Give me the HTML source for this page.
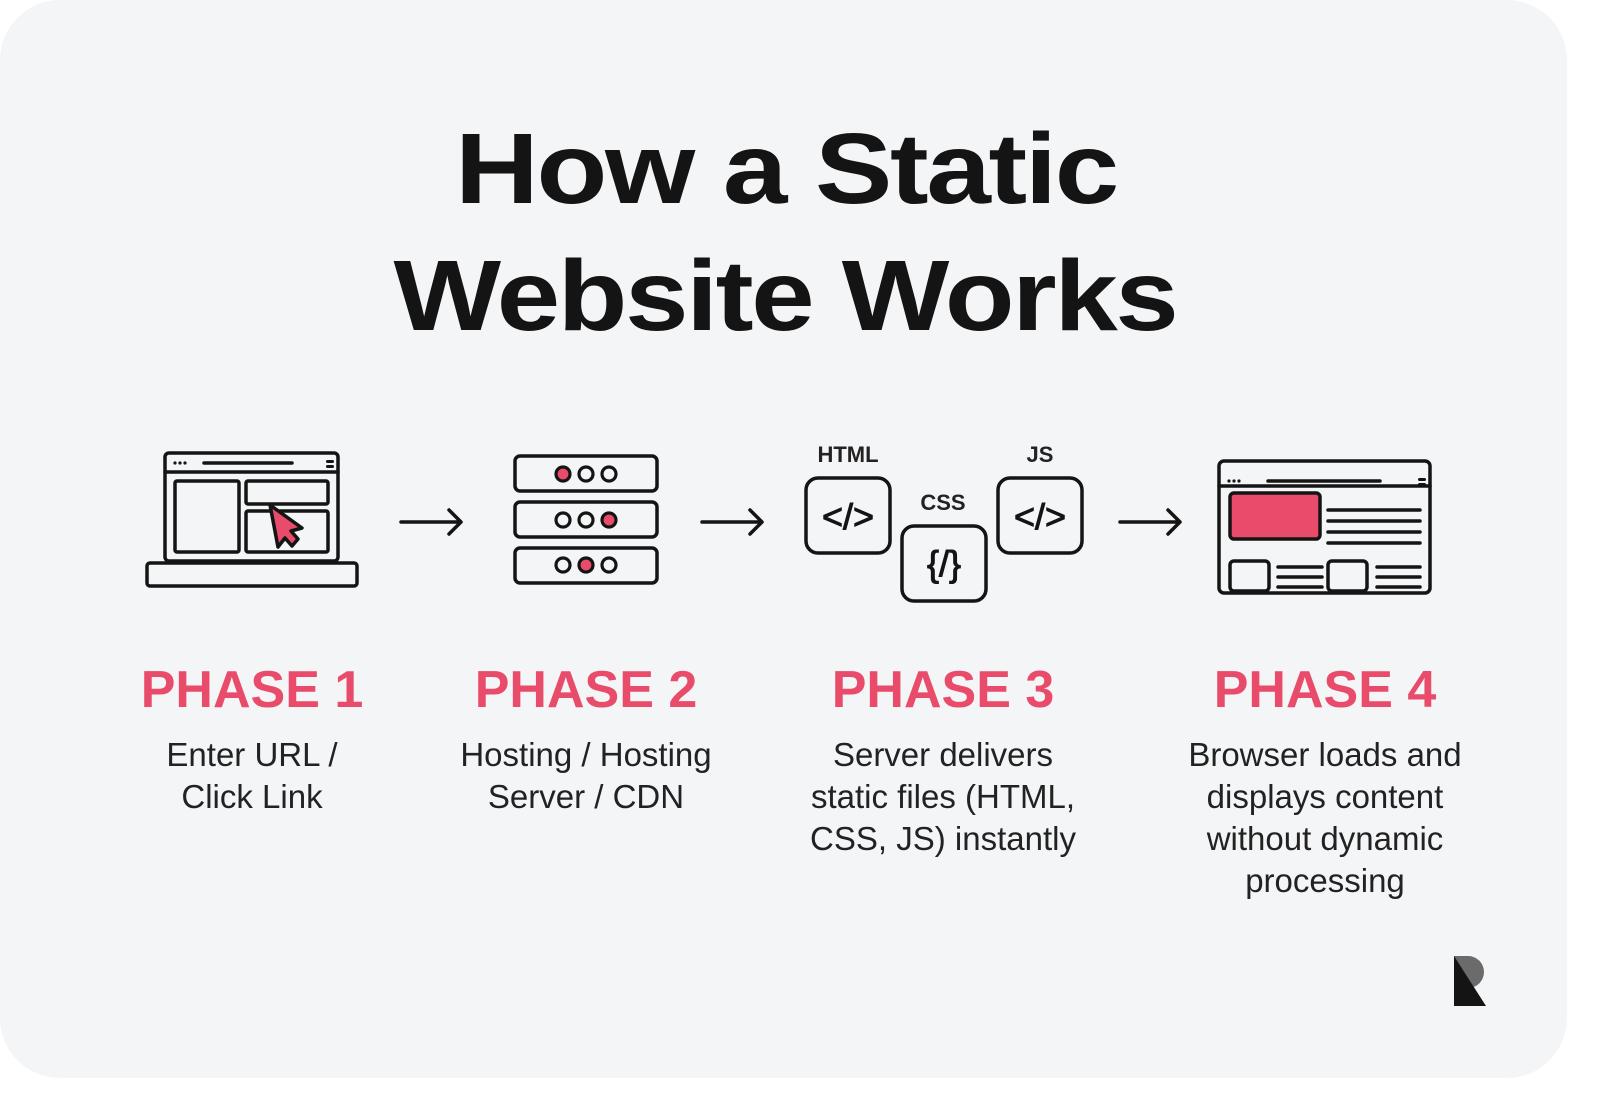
<!DOCTYPE html>
<html><head><meta charset="utf-8"><style>
html,body{margin:0;padding:0;background:#fff;width:1600px;height:1100px;overflow:hidden}
svg{display:block}
text{font-family:"Liberation Sans",sans-serif}
</style></head><body>
<svg width="1600" height="1100" viewBox="0 0 1600 1100" xmlns="http://www.w3.org/2000/svg">
<rect x="0" y="0" width="1567" height="1078" rx="60" fill="#f4f5f7"/>
<text x="786" y="203" font-size="100" font-weight="bold" fill="#141414" text-anchor="middle" textLength="662" lengthAdjust="spacingAndGlyphs" letter-spacing="-2">How a Static</text>
<text x="785" y="330" font-size="100" font-weight="bold" fill="#141414" text-anchor="middle" textLength="783" lengthAdjust="spacingAndGlyphs" letter-spacing="-2">Website Works</text>

<g fill="none" stroke="#141414" stroke-width="3.5" stroke-linecap="round" stroke-linejoin="round">
<rect x="165" y="453" width="173" height="108" rx="4"/>
<line x1="165" y1="472" x2="338" y2="472"/>
<line x1="204" y1="463" x2="292" y2="463"/>
<rect x="175" y="481" width="64" height="71" rx="2"/>
<rect x="246" y="481" width="82" height="23" rx="2"/>
<rect x="246" y="511" width="82" height="41" rx="2"/>
<rect x="147" y="563" width="210" height="23" rx="3"/>
<path d="M401 522H461M449 510L461 522L449 534"/>
<path d="M702 522H762M750 510L762 522L750 534"/>
<path d="M1120 522H1180M1168 510L1180 522L1168 534"/>
<rect x="515" y="456" width="142" height="35" rx="5"/>
<rect x="515" y="502" width="142" height="35" rx="5"/>
<rect x="515" y="548" width="142" height="35" rx="5"/>
<rect x="806" y="478" width="84" height="75" rx="12"/>
<rect x="902" y="526" width="84" height="75" rx="12"/>
<rect x="998" y="478" width="84" height="75" rx="12"/>
<rect x="1219" y="461" width="211" height="132" rx="5"/>
<line x1="1219" y1="486" x2="1430" y2="486"/>
<line x1="1268" y1="481" x2="1380" y2="481"/>
<rect x="1230" y="493" width="90" height="46" rx="4" fill="#e84c6a"/>
<path d="M1328 510H1420M1328 521H1420M1328 532H1420M1328 543H1420"/>
<rect x="1230" y="561" width="39" height="30" rx="4"/>
<rect x="1328" y="561" width="39" height="30" rx="4"/>
<path d="M1278 567H1322M1278 577H1322M1278 587H1322M1377 567H1420M1377 577H1420M1377 587H1420"/>
</g>
<g fill="#141414">
<circle cx="175" cy="463" r="1.6"/><circle cx="180" cy="463" r="1.6"/><circle cx="185" cy="463" r="1.6"/>
<rect x="326" y="460" width="8" height="3" rx="1.5"/><rect x="326" y="465" width="8" height="3" rx="1.5"/>
<circle cx="1229" cy="481" r="1.6"/><circle cx="1234" cy="481" r="1.6"/><circle cx="1239" cy="481" r="1.6"/>
<rect x="1418" y="478" width="8" height="3" rx="1.5"/><rect x="1418" y="483" width="8" height="3" rx="1.5"/>
</g>
<path d="M270 505 L302 528 L291 531 L298 539 L292 546 L285 538 L278 547 Z" fill="#e84c6a" stroke="#141414" stroke-width="3.5" stroke-linejoin="round"/>
<g stroke="#141414" stroke-width="3.2">
<circle cx="563" cy="474" r="7" fill="#e84c6a"/><circle cx="586" cy="474" r="7" fill="none"/><circle cx="609" cy="474" r="7" fill="none"/>
<circle cx="563" cy="520" r="7" fill="none"/><circle cx="586" cy="520" r="7" fill="none"/><circle cx="609" cy="520" r="7" fill="#e84c6a"/>
<circle cx="563" cy="565" r="7" fill="none"/><circle cx="586" cy="565" r="7" fill="#e84c6a"/><circle cx="609" cy="565" r="7" fill="none"/>
</g>
<g font-weight="bold" font-size="22" fill="#222" text-anchor="middle">
<text x="848" y="462">HTML</text><text x="943" y="510">CSS</text><text x="1040" y="462">JS</text>
</g>
<g font-size="36" fill="#141414" stroke="#141414" stroke-width="1" text-anchor="middle">
<text x="848" y="529">&lt;/&gt;</text><text x="1040" y="529">&lt;/&gt;</text><text x="944" y="576">{/}</text>
</g>
<g font-size="52" font-weight="bold" fill="#e84c6a" text-anchor="middle">
<text x="252" y="707">PHASE 1</text><text x="586" y="707">PHASE 2</text><text x="943" y="707">PHASE 3</text><text x="1325" y="707">PHASE 4</text>
</g>
<g font-size="33" fill="#222" text-anchor="middle">
<text x="252" y="766">Enter URL /</text><text x="252" y="808">Click Link</text>
<text x="586" y="766">Hosting / Hosting</text><text x="586" y="808">Server / CDN</text>
<text x="943" y="766">Server delivers</text><text x="943" y="808">static files (HTML,</text><text x="943" y="850">CSS, JS) instantly</text>
<text x="1325" y="766">Browser loads and</text><text x="1325" y="808">displays content</text><text x="1325" y="850">without dynamic</text><text x="1325" y="892">processing</text>
</g>
<path d="M1484 972 A16 16 0 0 0 1468 956 H1454 V988 H1468 A16 16 0 0 0 1484 972Z" fill="#6b6b6b"/>
<path d="M1454 956 L1486 1006 H1454 Z" fill="#141414"/>
</svg>
</body></html>
